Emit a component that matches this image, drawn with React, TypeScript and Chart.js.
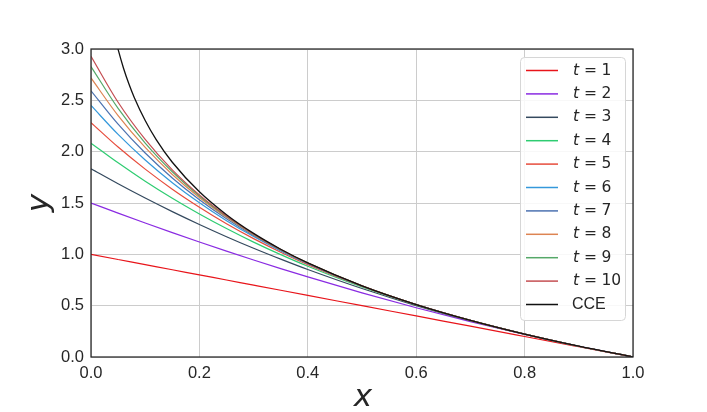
import React, { useEffect, useRef } from "react";
import { Chart, registerables } from "chart.js";

Chart.register(...registerables);

// x positions where the curves t = 1..10 are sampled
const xs = [0, 0.05, 0.1, 0.15, 0.2, 0.25, 0.3, 0.35, 0.4, 0.5, 0.6, 0.7, 0.8, 0.9, 1.0];

const t1 = [1.0, 0.95, 0.9, 0.85, 0.8, 0.75, 0.7, 0.65, 0.6, 0.5, 0.4, 0.3, 0.2, 0.1, 0];
const t2 = [1.5, 1.401, 1.305, 1.211, 1.12, 1.031, 0.945, 0.861, 0.78, 0.625, 0.48, 0.345, 0.22, 0.105, 0];
const t3 = [1.833, 1.687, 1.548, 1.416, 1.291, 1.172, 1.059, 0.953, 0.852, 0.667, 0.501, 0.354, 0.223, 0.105, 0];
const t4 = [2.083, 1.891, 1.712, 1.546, 1.393, 1.251, 1.119, 0.997, 0.884, 0.682, 0.508, 0.356, 0.223, 0.105, 0];
const t5 = [2.283, 2.045, 1.83, 1.635, 1.459, 1.298, 1.153, 1.021, 0.9, 0.689, 0.51, 0.357, 0.223, 0.105, 0];
const t6 = [2.45, 2.168, 1.919, 1.698, 1.502, 1.328, 1.173, 1.033, 0.908, 0.691, 0.511, 0.357, 0.223, 0.105, 0];
const t7 = [2.593, 2.268, 1.987, 1.744, 1.532, 1.347, 1.184, 1.04, 0.912, 0.692, 0.511, 0.357, 0.223, 0.105, 0];
const t8 = [2.718, 2.351, 2.041, 1.778, 1.553, 1.36, 1.192, 1.044, 0.914, 0.693, 0.511, 0.357, 0.223, 0.105, 0];
const t9 = [2.829, 2.421, 2.084, 1.804, 1.568, 1.368, 1.196, 1.046, 0.915, 0.693, 0.511, 0.357, 0.223, 0.105, 0];
const t10 = [2.929, 2.481, 2.119, 1.823, 1.579, 1.374, 1.199, 1.048, 0.916, 0.693, 0.511, 0.357, 0.223, 0.105, 0];

// CCE curve (sampled more densely near x = 0 where it is steep)
const cceXs = [0.04, 0.045, 0.05, 0.06, 0.07, 0.08, 0.1, 0.12, 0.15, 0.2, 0.25, 0.3, 0.35, 0.4, 0.5, 0.6, 0.7, 0.8, 0.9, 1.0];
const cceYs = [3.219, 3.101, 2.996, 2.813, 2.659, 2.526, 2.303, 2.12, 1.897, 1.609, 1.386, 1.204, 1.05, 0.916, 0.693, 0.511, 0.357, 0.223, 0.105, 0];

const seriesLabels = ["t = 1", "t = 2", "t = 3", "t = 4", "t = 5", "t = 6", "t = 7", "t = 8", "t = 9", "t = 10", "CCE"];
const seriesColors = [
  "#e8141a", "#8a2be2", "#34495e", "#2ecc71", "#e74c3c",
  "#3498db", "#4c72b0", "#dd8452", "#55a868", "#c44e52", "#111111",
];
const tSeries = [t1, t2, t3, t4, t5, t6, t7, t8, t9, t10];

const xTitle = "x";
const yTitle = "y";
const xTicks = [0, 0.2, 0.4, 0.6, 0.8, 1.0];
const yTicks = [0, 0.5, 1.0, 1.5, 2.0, 2.5, 3.0];

const TEXT = "#262626";

const overlay = {
  id: "overlay",
  afterDatasetsDraw(chart: any) {
    const { ctx, chartArea: a } = chart;
    ctx.save();
    // frame
    ctx.strokeStyle = TEXT;
    ctx.lineWidth = 1.25;
    ctx.strokeRect(a.left, a.top, a.right - a.left, a.bottom - a.top);

    // legend
    const bx = 520.5, by = 57.5, bw = 105, bh = 263;
    ctx.beginPath();
    (ctx as any).roundRect(bx, by, bw, bh, 4);
    ctx.fillStyle = "rgba(255,255,255,0.85)";
    ctx.fill();
    ctx.strokeStyle = "#d6d6d6";
    ctx.lineWidth = 1;
    ctx.stroke();

    chart.data.datasets.forEach((ds: any, i: number) => {
      const y = 70.5 + i * 23.4;
      ctx.strokeStyle = ds.borderColor;
      ctx.lineWidth = 1.5;
      ctx.beginPath();
      ctx.moveTo(526, y);
      ctx.lineTo(558, y);
      ctx.stroke();
      ctx.fillStyle = TEXT;
      ctx.textBaseline = "middle";
      const m = /^t = (\d+)$/.exec(ds.label);
      if (m) {
        ctx.font = 'italic 15.5px "DejaVu Sans"';
        ctx.textAlign = "center";
        ctx.fillText("t", 576, y);
        ctx.font = '15.5px "DejaVu Sans"';
        ctx.fillText("=", 590.5, y);
        ctx.textAlign = "left";
        ctx.fillText(m[1], 601.5, y);
      } else {
        ctx.textAlign = "left";
        ctx.font = '16px "Liberation Sans"';
        ctx.fillText(ds.label, 572, y);
      }
    });

    // axis titles
    ctx.fillStyle = TEXT;
    ctx.font = 'italic 31px "DejaVu Sans"';
    ctx.textAlign = "center";
    ctx.textBaseline = "alphabetic";
    ctx.fillText(xTitle, (a.left + a.right) / 2 + 1, 406);
    ctx.translate(48, (a.top + a.bottom) / 2);
    ctx.rotate(-Math.PI / 2);
    ctx.fillText(yTitle, 0, 0);
    ctx.restore();
  },
};

export default function App() {
  const ref = useRef<HTMLCanvasElement | null>(null);

  useEffect(() => {
    if (!ref.current) return;
    const datasets: any[] = tSeries.map((ys, i) => ({
      label: seriesLabels[i],
      data: xs.map((x, j) => ({ x, y: ys[j] })),
      borderColor: seriesColors[i],
      borderWidth: 1.2,
      pointRadius: 0,
      fill: false,
      cubicInterpolationMode: "monotone",
      order: 20 - i,
    }));
    datasets.push({
      label: seriesLabels[10],
      data: cceXs.map((x, j) => ({ x, y: cceYs[j] })),
      borderColor: seriesColors[10],
      borderWidth: 1.3,
      pointRadius: 0,
      fill: false,
      cubicInterpolationMode: "monotone",
      order: 0,
    });

    const chart = new Chart(ref.current, {
      type: "line",
      data: { datasets },
      options: {
        animation: false,
        responsive: false,
        layout: { padding: { left: 0, right: 74, top: 49, bottom: 0 } },
        plugins: { legend: { display: false }, tooltip: { enabled: false } },
        scales: {
          x: {
            type: "linear",
            min: 0,
            max: 1,
            afterFit: (s: any) => { s.height = 55; },
            afterBuildTicks: (s: any) => { s.ticks = xTicks.map((v) => ({ value: v })); },
            border: { display: false },
            grid: { color: "#cccccc", lineWidth: 1, drawTicks: false },
            ticks: {
              padding: 7,
              color: TEXT,
              font: { family: "Liberation Sans", size: 16.5 },
              callback: (v: any) => Number(v).toFixed(1),
              maxRotation: 0,
            },
          },
          y: {
            type: "linear",
            min: 0,
            max: 3,
            afterFit: (s: any) => { s.width = 91; },
            afterBuildTicks: (s: any) => { s.ticks = yTicks.map((v) => ({ value: v })); },
            border: { display: false },
            grid: { color: "#cccccc", lineWidth: 1, drawTicks: false },
            ticks: {
              padding: 7,
              color: TEXT,
              font: { family: "Liberation Sans", size: 16.5 },
              callback: (v: any) => Number(v).toFixed(1),
            },
          },
        },
      },
      plugins: [overlay],
    } as any);
    return () => chart.destroy();
  }, []);

  return (
    <div style={{ position: "absolute", left: 0, top: 0, width: 707, height: 412, background: "#fff" }}>
      <canvas ref={ref} width={707} height={412} style={{ width: 707, height: 412 }} />
    </div>
  );
}
